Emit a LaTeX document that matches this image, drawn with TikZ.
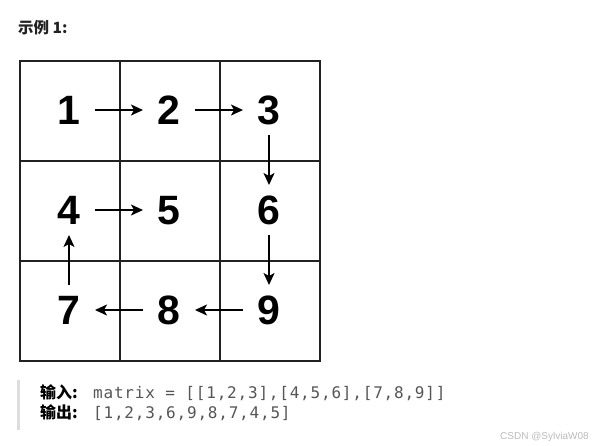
\documentclass[tikz,border=0pt]{standalone}
\usepackage{fontspec}
\setmainfont{Liberation Sans}
\newfontfamily\cjk{Noto Sans CJK SC}
\newfontfamily\monofont[LetterSpace=5]{DejaVu Sans Mono}
\usetikzlibrary{arrows.meta}
\definecolor{gridc}{HTML}{222222}
\definecolor{codec}{HTML}{555555}
\definecolor{barc}{HTML}{DDDDDD}
\definecolor{wmc}{HTML}{BBBBBB}
\tikzset{
  cell/.style={draw=gridc, line width=2pt, minimum size=100pt, inner sep=0pt, anchor=north west},
  num/.style={font=\fontsize{41}{41}\selectfont\bfseries, text height=29pt, text depth=0pt, inner sep=0pt},
  arr/.style={-{Stealth[length=12pt,width=11pt,inset=3pt]}, line width=1.6pt, black},
  lbl/.style={anchor=base west, inner sep=0pt}
}
\begin{document}
\begin{tikzpicture}[x=1pt,y=-1pt]
\useasboundingbox (0,0) rectangle (596,445);
\node[lbl, text=gridc, font=\cjk\fontsize{15.5}{16}\selectfont\bfseries] (title) at (18,33) {示例 1:};
% grid cells
\foreach \r in {1,2,3} {
  \foreach \c in {1,2,3} {
    \node[cell] (c\r\c) at ({19+(\c-1)*100},{60+(\r-1)*100}) {};
  }
}
% numbers
\node[num] (n1) at (69,110) {1};
\node[num] (n2) at (169,110) {2};
\node[num] (n3) at (269,110) {3};
\node[num] (n4) at (69,210) {4};
\node[num] (n5) at (169,210) {5};
\node[num] (n6) at (269,210) {6};
\node[num] (n7) at (69,310) {7};
\node[num] (n8) at (169,310) {8};
\node[num] (n9) at (269,310) {9};
% arrows
\draw[arr] ([xshift=26pt]n1.center) -- ([xshift=-26pt]n2.center);
\draw[arr] ([xshift=26pt]n2.center) -- ([xshift=-26pt]n3.center);
\draw[arr] ([yshift=-25pt]n3.center) -- ([yshift=25pt]n6.center);
\draw[arr] ([yshift=-25pt]n6.center) -- ([yshift=25pt]n9.center);
\draw[arr] ([xshift=-26pt]n9.center) -- ([xshift=26pt]n8.center);
\draw[arr] ([xshift=-26pt]n8.center) -- ([xshift=26pt]n7.center);
\draw[arr] ([yshift=25pt]n7.center) -- ([yshift=-25pt]n4.center);
\draw[arr] ([xshift=26pt]n4.center) -- ([xshift=-26pt]n5.center);
% code block
\fill[barc] (17,380) rectangle (20,430);
\node[lbl, font=\cjk\fontsize{16}{16}\selectfont\bfseries, text=black] (in) at (40,398) {输入:};
\node[lbl, font=\monofont\fontsize{16}{16}\selectfont, text=codec] (inv) at (93,398) {matrix = [[1,2,3],[4,5,6],[7,8,9]]};
\node[lbl, font=\cjk\fontsize{16}{16}\selectfont\bfseries, text=black] (out) at (40,418) {输出:};
\node[lbl, font=\monofont\fontsize{16}{16}\selectfont, text=codec] (outv) at (93,418) {[1,2,3,6,9,8,7,4,5]};
\node[lbl, font=\fontsize{10}{10}\selectfont, text=wmc] (wm) at (500,439) {CSDN @SylviaW08};
\end{tikzpicture}
\end{document}
